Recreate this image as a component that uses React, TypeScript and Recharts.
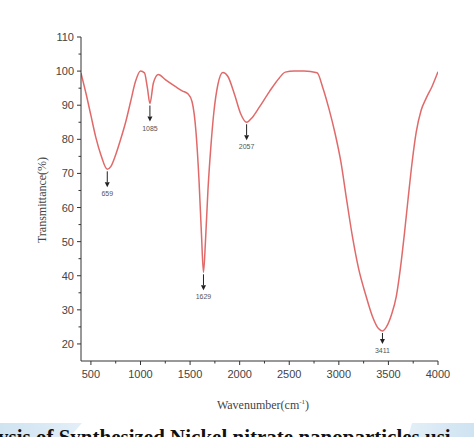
import React from 'react';
import { LineChart, Line, XAxis, YAxis, ReferenceDot } from 'recharts';

// FTIR spectrum
const wavenumbers = [
  400, 450, 500, 550, 600, 665, 700, 750, 800, 850, 900, 950, 1000, 1040, 1070, 1095, 1130, 1180,
  1250, 1350, 1420, 1480, 1520, 1560, 1590, 1615, 1635, 1655, 1680, 1710, 1740, 1780, 1830, 1880,
  1950, 2010, 2070, 2130, 2200, 2300, 2400, 2460, 2550, 2650, 2780, 2840, 2900, 2960, 3020, 3080,
  3140, 3200, 3270, 3340, 3400, 3440, 3480, 3530, 3580, 3620, 3660, 3700, 3740, 3780, 3830, 3880,
  3940, 4000,
];
const transmittance = [
  99.4, 93.5, 87, 80.5, 75.5, 71.2, 72, 75.5, 80, 85, 91, 97, 100, 99.5, 95, 90.5, 96.5, 99,
  97.5, 95.5, 94.2, 93.3, 91, 82, 68, 52, 41, 50, 65, 78, 88, 96, 99.6, 98.5,
  93, 87.5, 85, 86.5, 89.5, 94, 98, 99.7, 100, 100, 99.5, 95, 89, 82, 73.5, 62,
  51, 42, 34.5, 28, 24.5, 23.8, 25, 28.5, 34, 42, 52, 63, 73.5, 82, 88.5, 92,
  95.5, 99.8,
];

const peakWn = [665, 1095, 1635, 2070, 3440];
const peakT = [71.2, 90.5, 41, 85, 23.8];
const peakLabels = ['659', '1085', '1629', '2057', '3411'];

const xTicks = [500, 750, 1000, 1250, 1500, 1750, 2000, 2250, 2500, 2750, 3000, 3250, 3500, 3750, 4000];
const yTicks = [20, 25, 30, 35, 40, 45, 50, 55, 60, 65, 70, 75, 80, 85, 90, 95, 100, 105, 110];

const data = wavenumbers.map((wn, i) => ({ wn, t: transmittance[i] }));

const tickFont = '"Liberation Sans", Arial, sans-serif';
const serif = '"Liberation Serif", "Times New Roman", serif';

const XTick = (props: any) => {
  const { x, y, payload } = props;
  const major = payload.value % 500 === 0;
  return (
    <g>
      <line x1={x} x2={x} y1={y} y2={y + (major ? 4 : 2.5)} stroke="#333" />
      {major && (
        <text x={x} y={y + 17} textAnchor="middle" fontSize={11} fill="#444" fontFamily={tickFont}>
          {payload.value}
        </text>
      )}
    </g>
  );
};

const YTick = (props: any) => {
  const { x, y, payload } = props;
  const major = payload.value % 10 === 0;
  return (
    <g>
      <line x1={x - (major ? 4 : 2.5)} x2={x} y1={y} y2={y} stroke="#333" />
      {major && (
        <text x={x - 7} y={y + 4} textAnchor="end" fontSize={11} fill="#444" fontFamily={tickFont}>
          {payload.value}
        </text>
      )}
    </g>
  );
};

const PeakMark = ({ cx, cy, text }: any) => {
  const low = cy > 320;
  const len = low ? 8 : 13;
  return (
    <g>
      <line x1={cx} x2={cx} y1={cy + 2} y2={cy + len} stroke="#222" strokeWidth={1} />
      <path d={`M${cx - 2.5},${cy + len} L${cx + 2.5},${cy + len} L${cx},${cy + len + 5} Z`} fill="#222" />
      <text x={cx} y={cy + len + 14} textAnchor="middle" fontSize={7} fill="#555" fontFamily={tickFont}>
        {text}
      </text>
    </g>
  );
};

export default function App() {
  return (
    <div style={{ position: 'absolute', left: 0, top: 0, width: 474, height: 437, background: '#fff', overflow: 'hidden' }}>
      <LineChart width={474} height={437} data={data} margin={{ top: 37, right: 36, left: 0, bottom: 46 }}>
        <XAxis
          dataKey="wn"
          type="number"
          domain={[400, 4000]}
          ticks={xTicks}
          interval={0}
          tick={<XTick />}
          tickLine={false}
          tickSize={0}
          tickMargin={0}
          height={30}
          axisLine={{ stroke: '#333' }}
          allowDataOverflow
        />
        <YAxis
          type="number"
          domain={[15, 110]}
          ticks={yTicks}
          interval={0}
          tick={<YTick />}
          tickLine={false}
          tickSize={0}
          tickMargin={0}
          width={81}
          axisLine={{ stroke: '#333' }}
          allowDataOverflow
        />
        <Line
          type="monotone"
          dataKey="t"
          stroke="#e06a6a"
          strokeWidth={1.5}
          dot={false}
          activeDot={false}
          isAnimationActive={false}
        />
        {peakWn.map((wn, i) => (
          <ReferenceDot
            key={wn}
            x={wn}
            y={peakT[i]}
            r={0}
            shape={(p: any) => <PeakMark cx={p.cx} cy={p.cy} text={peakLabels[i]} />}
          />
        ))}
      </LineChart>
      <div
        style={{
          position: 'absolute', left: 42, top: 200, transform: 'translate(-50%, -50%) rotate(-90deg)',
          fontFamily: serif, fontSize: 12, color: '#444', whiteSpace: 'nowrap',
        }}
      >
        Transmittance(%)
      </div>
      <div
        style={{
          position: 'absolute', left: 263, top: 405, transform: 'translate(-50%, -50%)',
          fontFamily: serif, fontSize: 12, color: '#444', whiteSpace: 'nowrap',
        }}
      >
        Wavenumber(cm<sup style={{ fontSize: 7 }}>-1</sup>)
      </div>
      <div
        style={{
          position: 'absolute', left: 0, top: 423, width: 82, height: 14,
          background: 'linear-gradient(90deg, #cfe3f1, #e3eff8)', clipPath: 'polygon(0 0, 100% 0, 85% 100%, 0 100%)',
        }}
      />
      <div
        style={{
          position: 'absolute', left: 408, top: 423, width: 66, height: 14,
          background: 'linear-gradient(90deg, #e3eff8, #cfe3f1)', clipPath: 'polygon(6% 0, 100% 0, 100% 100%, 0 100%)',
        }}
      />
      <div
        style={{
          position: 'absolute', left: -2, top: 425, width: 480, whiteSpace: 'nowrap',
          fontFamily: serif, fontWeight: 'bold', fontSize: 21, lineHeight: '24px', color: '#111',
        }}
      >
        ysis of Synthesized Nickel nitrate nanoparticles usi
      </div>
    </div>
  );
}
